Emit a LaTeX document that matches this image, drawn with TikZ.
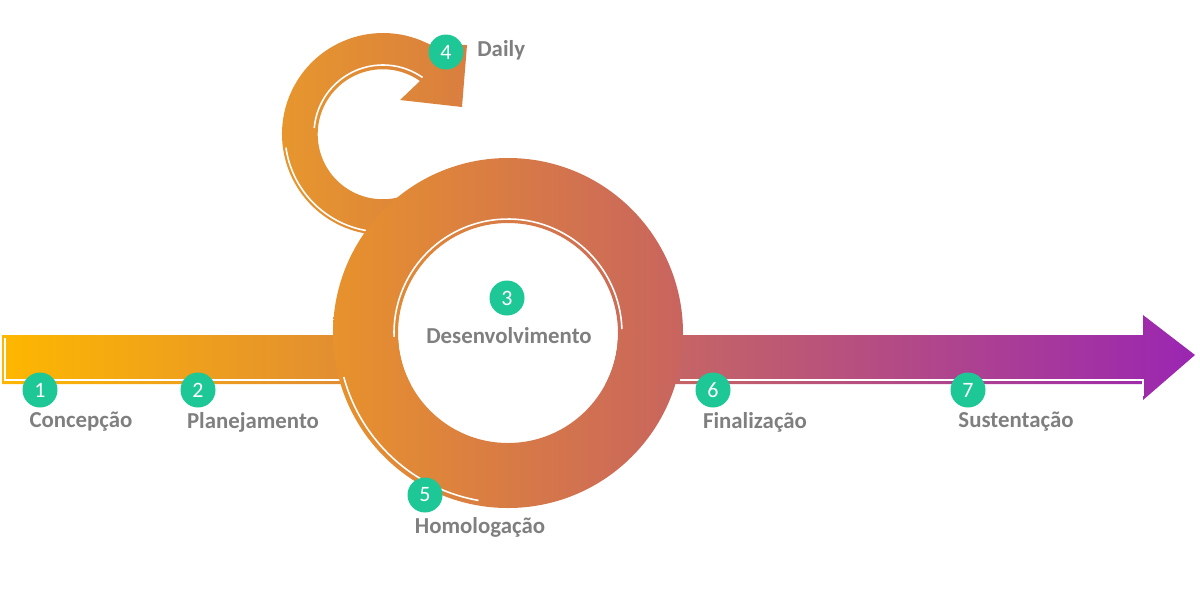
\documentclass[tikz,border=0pt]{standalone}
\usepackage{fontspec}
\setmainfont{Carlito}
\definecolor{badge}{HTML}{1EC896}
\definecolor{lbl}{HTML}{7F7F7F}
\definecolor{cA}{HTML}{FEB700}
\definecolor{cB}{HTML}{9A26B2}
\definecolor{rA}{HTML}{E7922C}
\definecolor{rB}{HTML}{C8645F}
\definecolor{lA}{HTML}{E8982C}
\definecolor{lB}{HTML}{D97E40}
\newlength\pxu \setlength\pxu{0.02cm}
\tikzset{
  badge/.style={circle,fill=badge,minimum size=35\pxu,inner sep=0pt,text=white,font=\fontsize{12.5}{14}\selectfont},
  lab/.style={text=lbl,font=\fontsize{13}{15}\selectfont\bfseries,inner sep=0pt},
  gleam/.style={white,line width=0.9pt}
}
\begin{document}
\begin{tikzpicture}[x=0.02cm,y=-0.02cm]
\useasboundingbox (0,0) rectangle (1200,593);
% band arrow
\shade[left color=cA,right color=cB,shading angle=90]
  (2,335) -- (1143,335) -- (1143,315) -- (1195,355) -- (1143,400) -- (1143,384) -- (2,384) -- cycle;
\draw[gleam] (5,338) -- (5,380) -- (345,380);
\draw[gleam] (680,380) -- (1143,380) -- (1143,396);
\fill[white] (508,333) circle[radius=110];
% loop arrow
\shade[left color=lA,right color=lB]
  (383,134) ++(70:101) arc[start angle=70,end angle=298,radius=101]
  -- (467,45) -- (462,107) -- (400,100) -- (420,81)
  arc[start angle=305,end angle=70,radius=65] -- cycle;
\draw[gleam] (383,134) ++(185:69) arc[start angle=185,end angle=305,radius=69];
\draw[gleam] (383,134) ++(100:98) arc[start angle=100,end angle=172,radius=98];
% ring
\shade[left color=rA,right color=rB,even odd rule]
  (508,333) circle[radius=175] (508,333) circle[radius=110];
\draw[gleam] (508,333) ++(178:114) arc[start angle=178,end angle=358,radius=114];
\draw[gleam] (508,333) ++(165:170) arc[start angle=165,end angle=100,radius=170];
% badges
\node[badge] (b1) at (40,390) {1};
\node[badge] (b2) at (198,390) {2};
\node[badge] (b3) at (507,298) {3};
\node[badge] (b4) at (446,52) {4};
\node[badge] (b5) at (425,495) {5};
\node[badge] (b6) at (713,390) {6};
\node[badge] (b7) at (968,390) {7};
% labels
\node[lab] (t1) at (81,422) {Concepção};
\node[lab] (t2) at (253,422) {Planejamento};
\node[lab] (t3) at (509,336) {Desenvolvimento};
\node[lab,anchor=west] (t4) at (477,50) {Daily};
\node[lab] (t5) at (480,527) {Homologação};
\node[lab] (t6) at (755,422) {Finalização};
\node[lab] (t7) at (1016,422) {Sustentação};
\end{tikzpicture}
\end{document}
